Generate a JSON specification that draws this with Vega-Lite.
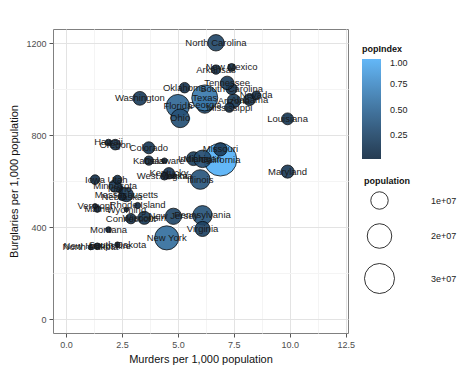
{
  "$schema": "https://vega.github.io/schema/vega-lite/v6.json",
  "width": 295,
  "height": 304,
  "autosize": {"type": "none"},
  "padding": {"left": 53, "top": 29, "right": 126, "bottom": 40},
  "background": "white",
  "config": {
    "view": {"stroke": "#808080", "strokeWidth": 1},
    "font": "Liberation Sans",
    "axis": {
      "domain": false,
      "tickColor": "#555555",
      "tickSize": 4,
      "labelColor": "#4d4d4d",
      "labelFontSize": 9,
      "labelFlush": false,
      "labelOverlap": false,
      "titleFontSize": 11,
      "titleFontWeight": "normal",
      "titleColor": "#111111",
      "labelPadding": 3
    },
    "legend": {
      "titleFontSize": 9,
      "titleFontWeight": "bold",
      "titleColor": "#111111",
      "labelFontSize": 9,
      "labelColor": "#222222"
    }
  },
  "data": {
    "values": [
      {"state": "Alabama", "murder": 8.2, "burglary": 953.8, "population": 4545049, "popIndex": 0.127},
      {"state": "Alaska", "murder": 4.8, "burglary": 622.5, "population": 669488, "popIndex": 0.0187},
      {"state": "Arizona", "murder": 7.5, "burglary": 948.4, "population": 5974834, "popIndex": 0.167},
      {"state": "Arkansas", "murder": 6.7, "burglary": 1084.6, "population": 2776221, "popIndex": 0.0776},
      {"state": "California", "murder": 6.9, "burglary": 693.3, "population": 35795255, "popIndex": 1.0},
      {"state": "Colorado", "murder": 3.7, "burglary": 744.8, "population": 4660780, "popIndex": 0.130},
      {"state": "Connecticut", "murder": 2.9, "burglary": 437.1, "population": 3477416, "popIndex": 0.0971},
      {"state": "Delaware", "murder": 4.4, "burglary": 688.9, "population": 839906, "popIndex": 0.0235},
      {"state": "Florida", "murder": 5.0, "burglary": 926.3, "population": 17783868, "popIndex": 0.497},
      {"state": "Georgia", "murder": 6.2, "burglary": 931.0, "population": 9097428, "popIndex": 0.254},
      {"state": "Hawaii", "murder": 1.9, "burglary": 767.9, "population": 1273278, "popIndex": 0.0356},
      {"state": "Idaho", "murder": 2.4, "burglary": 564.4, "population": 1429096, "popIndex": 0.0399},
      {"state": "Illinois", "murder": 6.0, "burglary": 606.9, "population": 12763371, "popIndex": 0.357},
      {"state": "Indiana", "murder": 5.7, "burglary": 697.6, "population": 6266019, "popIndex": 0.175},
      {"state": "Iowa", "murder": 1.3, "burglary": 606.4, "population": 2966334, "popIndex": 0.0829},
      {"state": "Kansas", "murder": 3.7, "burglary": 689.2, "population": 2744687, "popIndex": 0.0767},
      {"state": "Kentucky", "murder": 4.6, "burglary": 634.0, "population": 4172608, "popIndex": 0.117},
      {"state": "Louisiana", "murder": 9.9, "burglary": 870.6, "population": 4534310, "popIndex": 0.127},
      {"state": "Maine", "murder": 1.4, "burglary": 478.5, "population": 1318787, "popIndex": 0.0368},
      {"state": "Maryland", "murder": 9.9, "burglary": 641.4, "population": 5589599, "popIndex": 0.156},
      {"state": "Massachusetts", "murder": 2.7, "burglary": 541.1, "population": 6433367, "popIndex": 0.180},
      {"state": "Michigan", "murder": 6.1, "burglary": 696.8, "population": 10095643, "popIndex": 0.282},
      {"state": "Minnesota", "murder": 2.2, "burglary": 578.9, "population": 5106560, "popIndex": 0.143},
      {"state": "Mississippi", "murder": 7.3, "burglary": 919.7, "population": 2902966, "popIndex": 0.0811},
      {"state": "Missouri", "murder": 6.9, "burglary": 738.3, "population": 5797703, "popIndex": 0.162},
      {"state": "Montana", "murder": 1.9, "burglary": 389.2, "population": 935670, "popIndex": 0.0261},
      {"state": "Nebraska", "murder": 2.5, "burglary": 532.4, "population": 1747704, "popIndex": 0.0488},
      {"state": "Nevada", "murder": 8.5, "burglary": 972.4, "population": 2410768, "popIndex": 0.0673},
      {"state": "New Hampshire", "murder": 1.4, "burglary": 317.0, "population": 1308389, "popIndex": 0.0366},
      {"state": "New Jersey", "murder": 4.8, "burglary": 447.1, "population": 8685166, "popIndex": 0.243},
      {"state": "New Mexico", "murder": 7.4, "burglary": 1093.9, "population": 1928384, "popIndex": 0.0539},
      {"state": "New York", "murder": 4.5, "burglary": 353.3, "population": 19280727, "popIndex": 0.539},
      {"state": "North Carolina", "murder": 6.7, "burglary": 1201.1, "population": 8856505, "popIndex": 0.247},
      {"state": "North Dakota", "murder": 1.1, "burglary": 311.9, "population": 636308, "popIndex": 0.0178},
      {"state": "Ohio", "murder": 5.1, "burglary": 872.8, "population": 11464042, "popIndex": 0.320},
      {"state": "Oklahoma", "murder": 5.3, "burglary": 1006.0, "population": 3523546, "popIndex": 0.0984},
      {"state": "Oregon", "murder": 2.2, "burglary": 758.6, "population": 3591363, "popIndex": 0.100},
      {"state": "Pennsylvania", "murder": 6.1, "burglary": 451.6, "population": 12406292, "popIndex": 0.347},
      {"state": "Rhode Island", "murder": 3.2, "burglary": 494.2, "population": 1080632, "popIndex": 0.0302},
      {"state": "South Carolina", "murder": 7.4, "burglary": 1000.9, "population": 4198068, "popIndex": 0.117},
      {"state": "South Dakota", "murder": 2.3, "burglary": 324.4, "population": 775933, "popIndex": 0.0217},
      {"state": "Tennessee", "murder": 7.2, "burglary": 1026.9, "population": 5900962, "popIndex": 0.165},
      {"state": "Texas", "murder": 6.2, "burglary": 961.6, "population": 22471549, "popIndex": 0.628},
      {"state": "Utah", "murder": 2.3, "burglary": 606.2, "population": 2469585, "popIndex": 0.0690},
      {"state": "Vermont", "murder": 1.3, "burglary": 491.8, "population": 621394, "popIndex": 0.0174},
      {"state": "Virginia", "murder": 6.1, "burglary": 392.1, "population": 7459827, "popIndex": 0.208},
      {"state": "Washington", "murder": 3.3, "burglary": 959.7, "population": 6203788, "popIndex": 0.173},
      {"state": "West Virginia", "murder": 4.4, "burglary": 621.2, "population": 1812548, "popIndex": 0.0506},
      {"state": "Wisconsin", "murder": 3.5, "burglary": 440.4, "population": 5536201, "popIndex": 0.155},
      {"state": "Wyoming", "murder": 2.7, "burglary": 476.3, "population": 509294, "popIndex": 0.0142}
    ]
  },
  "encoding": {
    "x": {
      "field": "murder",
      "type": "quantitative",
      "title": "Murders per 1,000 population",
      "scale": {"domain": [-0.58, 12.6], "nice": false, "zero": false},
      "axis": {
        "values": [0, 1.25, 2.5, 3.75, 5, 6.25, 7.5, 8.75, 10, 11.25, 12.5],
        "labelExpr": "datum.value % 2.5 == 0 ? format(datum.value, '.1f') : ''",
        "tickOpacity": {"condition": {"test": "datum.value % 2.5 != 0", "value": 0}, "value": 1},
        "gridColor": {"condition": {"test": "datum.value % 2.5 != 0", "value": "#f4f4f4"}, "value": "#e3e3e3"},
        "titlePadding": 4
      }
    },
    "y": {
      "field": "burglary",
      "type": "quantitative",
      "title": "Burglaries per 1,000 population",
      "scale": {"domain": [-60, 1261], "nice": false, "zero": false},
      "axis": {
        "values": [0, 200, 400, 600, 800, 1000, 1200],
        "labelExpr": "datum.value % 400 == 0 ? '' + datum.value : ''",
        "tickOpacity": {"condition": {"test": "datum.value % 400 != 0", "value": 0}, "value": 1},
        "gridColor": {"condition": {"test": "datum.value % 400 != 0", "value": "#f4f4f4"}, "value": "#e3e3e3"},
        "titlePadding": 6
      }
    }
  },
  "layer": [
    {
      "mark": {"type": "circle", "stroke": "black", "strokeWidth": 0.8, "opacity": 0.92},
      "encoding": {
        "size": {
          "field": "population",
          "type": "quantitative",
          "scale": {"type": "linear", "domain": [509294, 35795255], "range": [20, 1075], "zero": false},
          "legend": {
            "orient": "none",
            "legendX": 311,
            "legendY": 148,
            "title": "population",
            "values": [10000000, 20000000, 30000000],
            "labelExpr": "(datum.value / 10000000) + 'e+07'",
            "symbolFillColor": "white",
            "symbolStrokeColor": "black",
            "symbolStrokeWidth": 0.8,
            "symbolOpacity": 1,
            "rowPadding": 11,
            "labelOffset": 36
          }
        },
        "color": {
          "field": "popIndex",
          "type": "quantitative",
          "scale": {"range": ["#132B43", "#56B1F7"], "interpolate": "lab"},
          "legend": {
            "orient": "none",
            "legendX": 309,
            "legendY": 16,
            "title": "popIndex",
            "values": [0.25, 0.5, 0.75, 1.0],
            "format": ".2f",
            "gradientLength": 100,
            "gradientThickness": 19,
            "gradientStrokeWidth": 0,
            "labelOffset": 9
          }
        }
      }
    },
    {
      "mark": {"type": "text", "fontSize": 9.5, "color": "#1a1a1a", "font": "Liberation Sans"},
      "encoding": {"text": {"field": "state", "type": "nominal"}}
    }
  ]
}
